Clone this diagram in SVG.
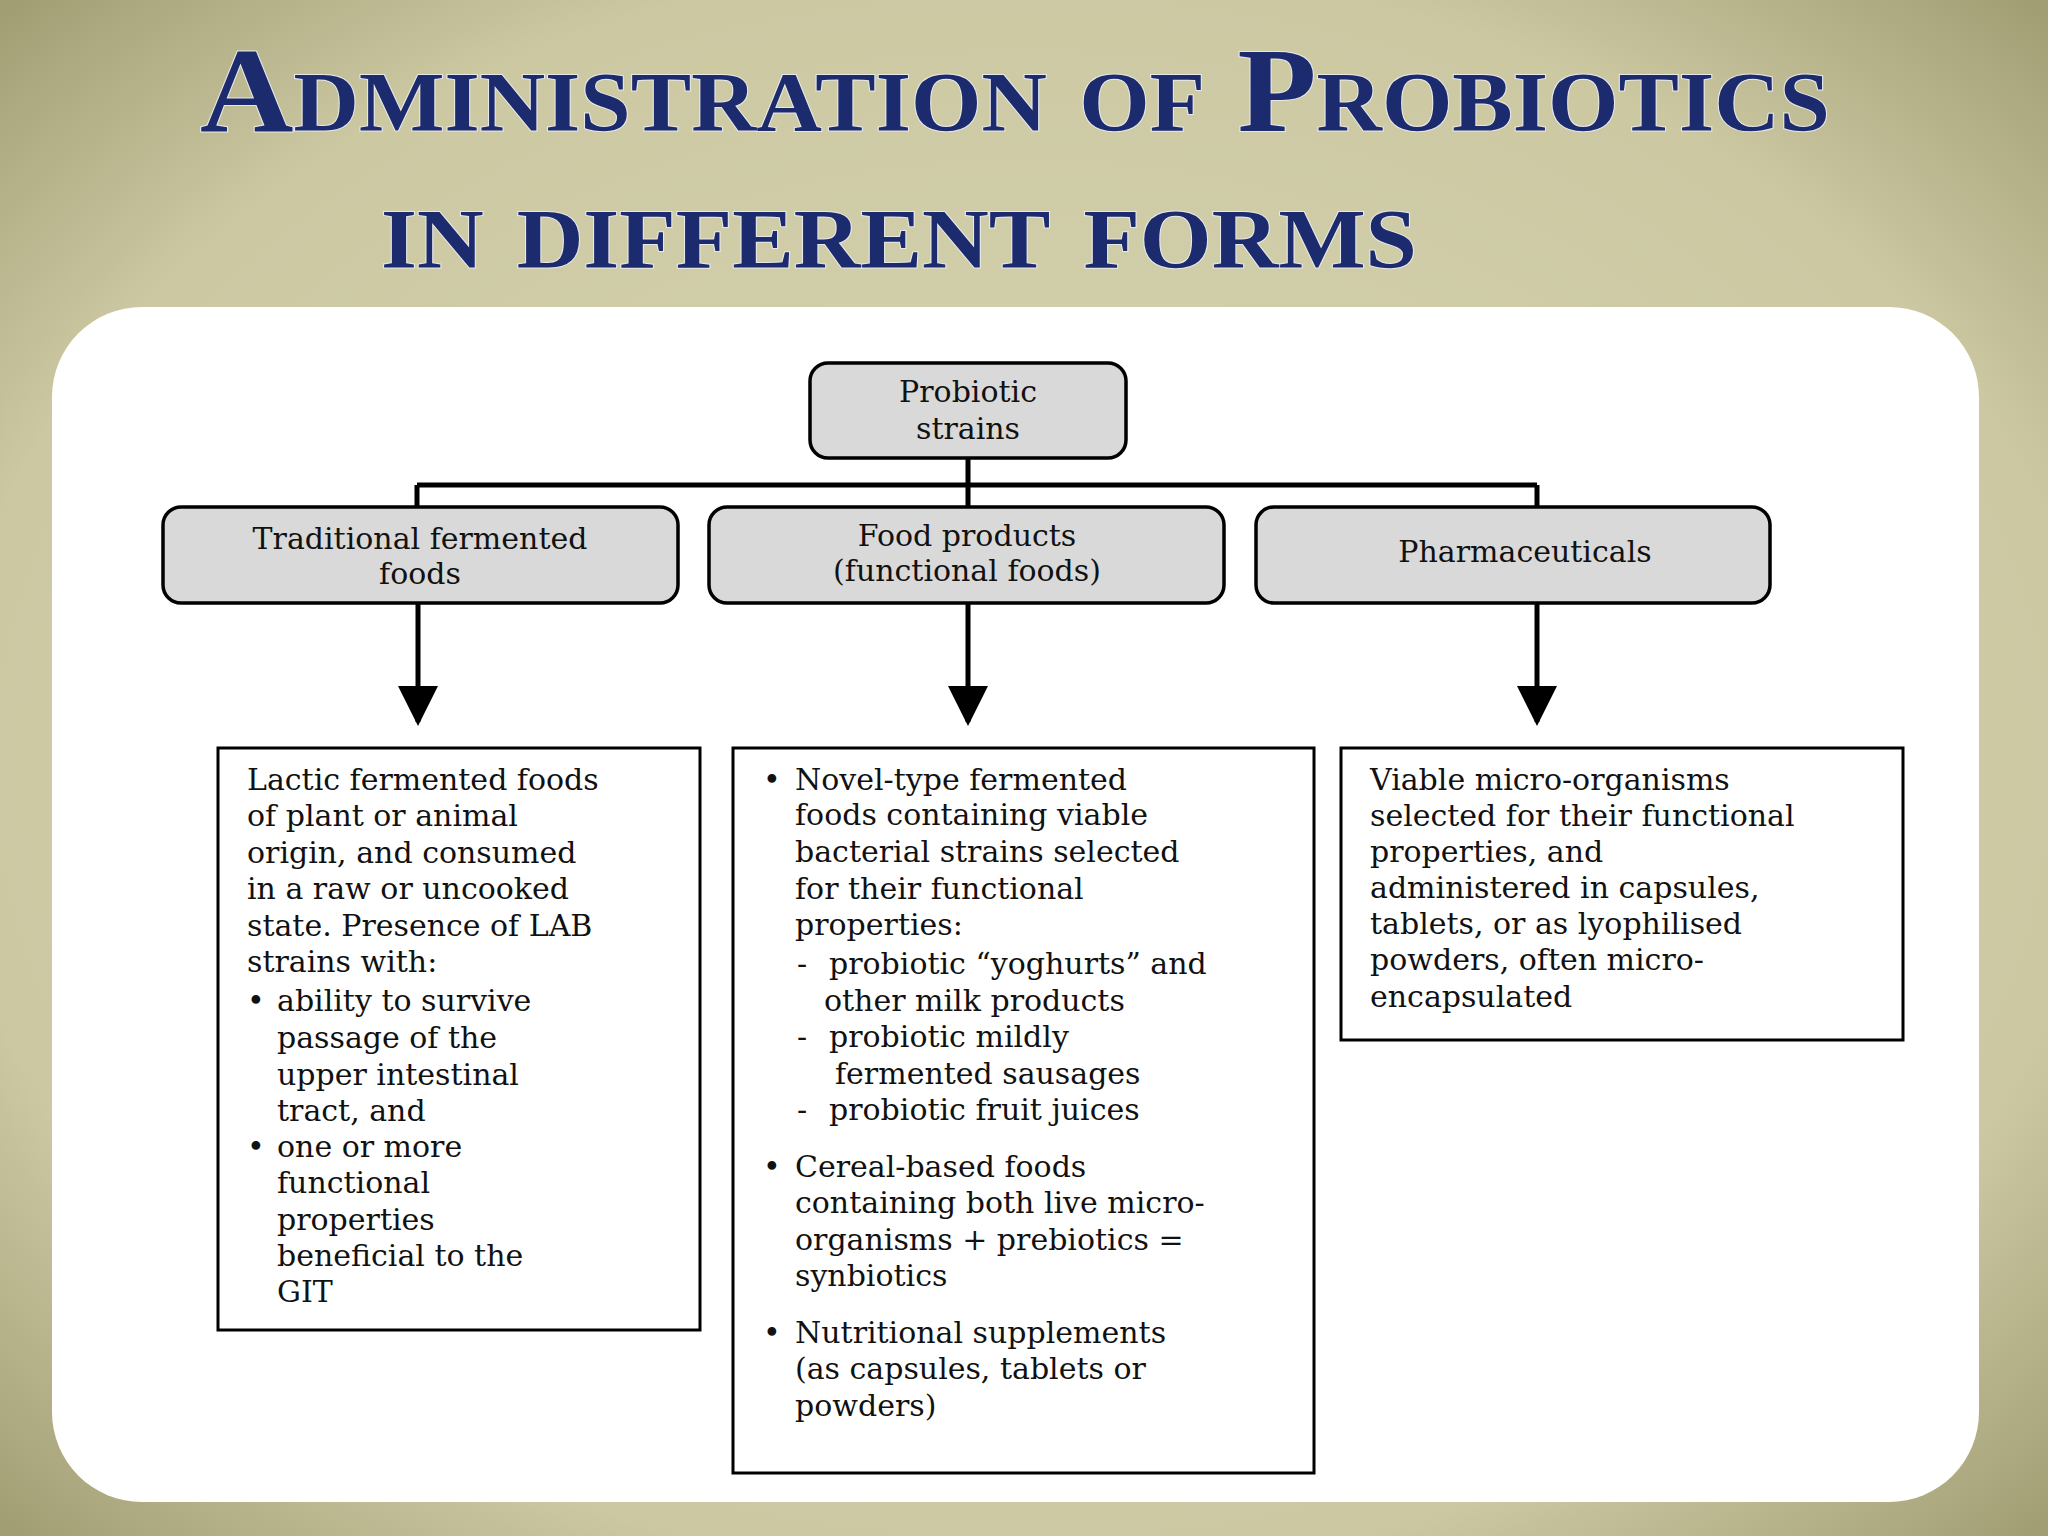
<svg xmlns="http://www.w3.org/2000/svg" width="2048" height="1536" viewBox="0 0 2048 1536">
<defs>
<radialGradient id="bg" cx="50%" cy="50%" r="70%">
<stop offset="0" stop-color="#d8d6b4"/><stop offset="0.75" stop-color="#cbc8a2"/><stop offset="1" stop-color="#a29e74"/>
</radialGradient>
<marker id="ah" viewBox="0 0 10 10" refX="9" refY="5" markerWidth="8" markerHeight="8" orient="auto" markerUnits="strokeWidth"><path d="M0,0 L10,5 L0,10 Z" fill="#000"/></marker>
</defs>
<style>
.title{font-family:"Liberation Serif",serif;font-weight:bold;font-variant:small-caps;font-size:120px;fill:#1c2a6e;stroke:#e8e8e8;stroke-width:2;paint-order:stroke}
.nb{fill:#d9d9d9;stroke:#000;stroke-width:3.5}
.tb{fill:#fff;stroke:#000;stroke-width:3}
.t{font-family:"DejaVu Serif",serif;font-size:30px;fill:#111}
.c{text-anchor:middle}
.ln{stroke:#000;stroke-width:5;fill:none}
</style>
<rect width="2048" height="1536" fill="url(#bg)"/>
<text class="title" x="200" y="131" textLength="1630" lengthAdjust="spacingAndGlyphs">Administration of Probiotics</text>
<text class="title" x="381" y="268" textLength="1036" lengthAdjust="spacingAndGlyphs">in different forms</text>
<rect x="52" y="307" width="1927" height="1195" rx="90" fill="#fff"/>
<g id="connectors">
<path class="ln" d="M968,458 V485 M417,485 H1537 M417,485 V507 M1537,485 V507 M968,485 V507"/>
<path class="ln" d="M418,603 V722" marker-end="url(#ah)"/>
<path class="ln" d="M968,603 V722" marker-end="url(#ah)"/>
<path class="ln" d="M1537,603 V722" marker-end="url(#ah)"/>
</g>
<g id="n-top"><rect class="nb" x="810" y="363" width="316" height="95" rx="18"/>
<text class="t c" x="968" y="402">Probiotic</text><text class="t c" x="968" y="439">strains</text></g>
<g id="n-trad"><rect class="nb" x="163" y="507" width="515" height="96" rx="18"/>
<text class="t c" x="420" y="549">Traditional fermented</text><text class="t c" x="420" y="584">foods</text></g>
<g id="n-food"><rect class="nb" x="709" y="507" width="515" height="96" rx="18"/>
<text class="t c" x="967" y="546">Food products</text><text class="t c" x="967" y="581">(functional foods)</text></g>
<g id="n-pharm"><rect class="nb" x="1256" y="507" width="514" height="96" rx="18"/>
<text class="t c" x="1525" y="562">Pharmaceuticals</text></g>
<g id="d-trad"><rect class="tb" x="218" y="748" width="482" height="582"/>
<text class="t"><tspan x="247" y="790">Lactic fermented foods</tspan><tspan x="247" y="826">of plant or animal</tspan><tspan x="247" y="863">origin, and consumed</tspan><tspan x="247" y="899">in a raw or uncooked</tspan><tspan x="247" y="936">state. Presence of LAB</tspan><tspan x="247" y="972">strains with:</tspan>
<tspan x="247" y="1011">•</tspan><tspan x="277" y="1011">ability to survive</tspan><tspan x="277" y="1048">passage of the</tspan><tspan x="277" y="1085">upper intestinal</tspan><tspan x="277" y="1121">tract, and</tspan>
<tspan x="247" y="1157">•</tspan><tspan x="277" y="1157">one or more</tspan><tspan x="277" y="1193">functional</tspan><tspan x="277" y="1230">properties</tspan><tspan x="277" y="1266">beneficial to the</tspan><tspan x="277" y="1302">GIT</tspan></text></g>
<g id="d-food"><rect class="tb" x="733" y="748" width="581" height="725"/>
<text class="t"><tspan x="763" y="790">•</tspan><tspan x="795" y="790">Novel-type fermented</tspan><tspan x="795" y="825">foods containing viable</tspan><tspan x="795" y="862">bacterial strains selected</tspan><tspan x="795" y="899">for their functional</tspan><tspan x="795" y="935">properties:</tspan>
<tspan x="797" y="974">-</tspan><tspan x="829" y="974">probiotic “yoghurts” and</tspan><tspan x="824" y="1011">other milk products</tspan>
<tspan x="797" y="1047">-</tspan><tspan x="829" y="1047">probiotic mildly</tspan><tspan x="835" y="1084">fermented sausages</tspan>
<tspan x="797" y="1120">-</tspan><tspan x="829" y="1120">probiotic fruit juices</tspan>
<tspan x="763" y="1177">•</tspan><tspan x="795" y="1177">Cereal-based foods</tspan><tspan x="795" y="1213">containing both live micro-</tspan><tspan x="795" y="1250">organisms + prebiotics =</tspan><tspan x="795" y="1286">synbiotics</tspan>
<tspan x="763" y="1343">•</tspan><tspan x="795" y="1343">Nutritional supplements</tspan><tspan x="795" y="1379">(as capsules, tablets or</tspan><tspan x="795" y="1416">powders)</tspan></text></g>
<g id="d-pharm"><rect class="tb" x="1341" y="748" width="562" height="292"/>
<text class="t"><tspan x="1370" y="790">Viable micro-organisms</tspan><tspan x="1370" y="826">selected for their functional</tspan><tspan x="1370" y="862">properties, and</tspan><tspan x="1370" y="898">administered in capsules,</tspan><tspan x="1370" y="934">tablets, or as lyophilised</tspan><tspan x="1370" y="970">powders, often micro-</tspan><tspan x="1370" y="1007">encapsulated</tspan></text></g>
</svg>
